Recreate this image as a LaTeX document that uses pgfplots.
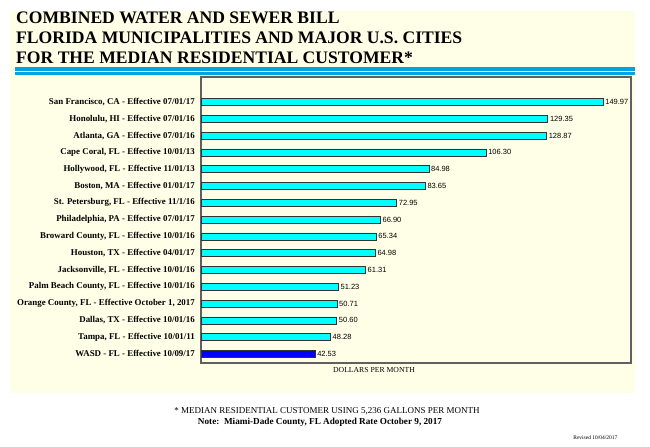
\documentclass[border=0pt]{standalone}
\usepackage{pgfplots}
\pgfplotsset{compat=1.18}
\usepackage{fontspec}
\setmainfont{Liberation Serif}
\newfontfamily\arial{Liberation Sans}
\definecolor{cream}{HTML}{FFFFE8}
\definecolor{stripe}{HTML}{00A4E4}
\definecolor{barcyan}{HTML}{00FFFF}
\definecolor{wasd}{HTML}{0000FF}
\definecolor{frame}{HTML}{606060}

\begin{document}
\begin{tikzpicture}
\path[use as bounding box, fill=white] (0,0) rectangle (650bp,447bp);
% page background and title stripes
\fill[cream] (10bp,54bp) rectangle (635bp,436bp);
\fill[stripe] (15bp,376bp) rectangle (635bp,380bp);
\fill[stripe] (15bp,372bp) rectangle (635bp,374.5bp);
\node[anchor=base west, inner sep=0pt, font=\fontsize{17.6bp}{18bp}\selectfont\bfseries] at (16bp,423bp) {COMBINED WATER AND SEWER BILL};
\node[anchor=base west, inner sep=0pt, font=\fontsize{17.6bp}{18bp}\selectfont\bfseries] at (16bp,403bp) {FLORIDA MUNICIPALITIES AND MAJOR U.S. CITIES};
\node[anchor=base west, inner sep=0pt, font=\fontsize{17.6bp}{18bp}\selectfont\bfseries] at (16bp,383bp) {FOR THE MEDIAN RESIDENTIAL CUSTOMER*};

\begin{axis}[
    at={(201bp,84bp)}, anchor=south west,
    width=430bp, height=286bp, scale only axis,
    xbar, bar width=7bp, bar shift=0pt,
    xmin=0, xmax=160.4,
    ymin=-0.54, ymax=16.49,
    xtick=\empty,
    ytick={0,...,15},
    major tick length=0pt,
    yticklabels={{WASD - FL - Effective 10/09/17},
        {Tampa, FL - Effective 10/01/11},
        {Dallas, TX - Effective 10/01/16},
        {Orange County, FL - Effective October 1, 2017},
        {Palm Beach County, FL - Effective 10/01/16},
        {Jacksonville, FL - Effective 10/01/16},
        {Houston, TX - Effective 04/01/17},
        {Broward County, FL - Effective 10/01/16},
        {Philadelphia, PA - Effective 07/01/17},
        {St. Petersburg, FL - Effective 11/1/16},
        {Boston, MA - Effective 01/01/17},
        {Hollywood, FL - Effective 11/01/13},
        {Cape Coral, FL - Effective 10/01/13},
        {Atlanta, GA - Effective 07/01/16},
        {Honolulu, HI - Effective 07/01/16},
        {San Francisco, CA - Effective 07/01/17}},
    yticklabel style={font=\fontsize{8.9bp}{9bp}\selectfont\bfseries, anchor=east, inner sep=0pt, xshift=-6bp},
    axis line style={draw=frame, line width=1.2bp},
    nodes near coords,
    nodes near coords style={font=\arial\fontsize{7.5bp}{8bp}\selectfont, anchor=west, inner sep=0pt, xshift=2bp,
        /pgf/number format/.cd, fixed, fixed zerofill, precision=2, assume math mode=true},
]
\addplot[draw=black!80, line width=0.6bp, fill=barcyan] coordinates {
    (48.28,1) (50.60,2) (50.71,3) (51.23,4) (61.31,5) (64.98,6) (65.34,7)
    (66.90,8) (72.95,9) (83.65,10) (84.98,11) (106.30,12) (128.87,13)
    (129.35,14) (149.97,15)};
\addplot[draw=black!80, line width=0.6bp, fill=wasd] coordinates {(42.53,0)};
\end{axis}

\node[font=\fontsize{7.7bp}{8bp}\selectfont] at (374bp,77bp) {DOLLARS PER MONTH};
\node[font=\fontsize{9bp}{10bp}\selectfont] at (327bp,36bp) {* MEDIAN RESIDENTIAL CUSTOMER USING 5,236 GALLONS PER MONTH};
\node[font=\fontsize{9.2bp}{10bp}\selectfont\bfseries] at (320bp,25bp) {Note:\ \ Miami-Dade County, FL Adopted Rate October 9, 2017};
\node[anchor=east, font=\fontsize{5.5bp}{6bp}\selectfont] at (621bp,9bp) {Revised 10/04/2017};
\end{tikzpicture}
\end{document}
